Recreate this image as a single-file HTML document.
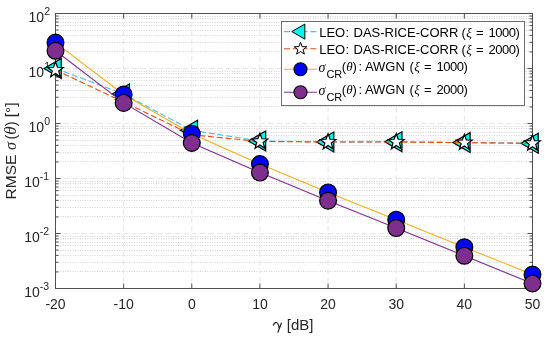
<!DOCTYPE html><html><head><meta charset="utf-8"><style>html,body{margin:0;padding:0;background:#fff;}svg{display:block;will-change:transform;font-family:"Liberation Sans",sans-serif;}</style></head><body>
<svg width="550" height="340" viewBox="0 0 550 340">
<rect width="550" height="340" fill="#fff"/>
<line x1="55.5" y1="271.50" x2="532.5" y2="271.50" stroke="#d2d2d2" stroke-width="1" stroke-dasharray="1 1.45"/>
<line x1="55.5" y1="262.50" x2="532.5" y2="262.50" stroke="#d2d2d2" stroke-width="1" stroke-dasharray="1 1.45"/>
<line x1="55.5" y1="255.50" x2="532.5" y2="255.50" stroke="#d2d2d2" stroke-width="1" stroke-dasharray="1 1.45"/>
<line x1="55.5" y1="250.50" x2="532.5" y2="250.50" stroke="#d2d2d2" stroke-width="1" stroke-dasharray="1 1.45"/>
<line x1="55.5" y1="245.50" x2="532.5" y2="245.50" stroke="#d2d2d2" stroke-width="1" stroke-dasharray="1 1.45"/>
<line x1="55.5" y1="242.50" x2="532.5" y2="242.50" stroke="#d2d2d2" stroke-width="1" stroke-dasharray="1 1.45"/>
<line x1="55.5" y1="238.50" x2="532.5" y2="238.50" stroke="#d2d2d2" stroke-width="1" stroke-dasharray="1 1.45"/>
<line x1="55.5" y1="236.50" x2="532.5" y2="236.50" stroke="#d2d2d2" stroke-width="1" stroke-dasharray="1 1.45"/>
<line x1="55.5" y1="216.50" x2="532.5" y2="216.50" stroke="#d2d2d2" stroke-width="1" stroke-dasharray="1 1.45"/>
<line x1="55.5" y1="207.50" x2="532.5" y2="207.50" stroke="#d2d2d2" stroke-width="1" stroke-dasharray="1 1.45"/>
<line x1="55.5" y1="200.50" x2="532.5" y2="200.50" stroke="#d2d2d2" stroke-width="1" stroke-dasharray="1 1.45"/>
<line x1="55.5" y1="195.50" x2="532.5" y2="195.50" stroke="#d2d2d2" stroke-width="1" stroke-dasharray="1 1.45"/>
<line x1="55.5" y1="190.50" x2="532.5" y2="190.50" stroke="#d2d2d2" stroke-width="1" stroke-dasharray="1 1.45"/>
<line x1="55.5" y1="187.50" x2="532.5" y2="187.50" stroke="#d2d2d2" stroke-width="1" stroke-dasharray="1 1.45"/>
<line x1="55.5" y1="183.50" x2="532.5" y2="183.50" stroke="#d2d2d2" stroke-width="1" stroke-dasharray="1 1.45"/>
<line x1="55.5" y1="181.50" x2="532.5" y2="181.50" stroke="#d2d2d2" stroke-width="1" stroke-dasharray="1 1.45"/>
<line x1="55.5" y1="161.50" x2="532.5" y2="161.50" stroke="#d2d2d2" stroke-width="1" stroke-dasharray="1 1.45"/>
<line x1="55.5" y1="152.50" x2="532.5" y2="152.50" stroke="#d2d2d2" stroke-width="1" stroke-dasharray="1 1.45"/>
<line x1="55.5" y1="145.50" x2="532.5" y2="145.50" stroke="#d2d2d2" stroke-width="1" stroke-dasharray="1 1.45"/>
<line x1="55.5" y1="140.50" x2="532.5" y2="140.50" stroke="#d2d2d2" stroke-width="1" stroke-dasharray="1 1.45"/>
<line x1="55.5" y1="135.50" x2="532.5" y2="135.50" stroke="#d2d2d2" stroke-width="1" stroke-dasharray="1 1.45"/>
<line x1="55.5" y1="132.50" x2="532.5" y2="132.50" stroke="#d2d2d2" stroke-width="1" stroke-dasharray="1 1.45"/>
<line x1="55.5" y1="128.50" x2="532.5" y2="128.50" stroke="#d2d2d2" stroke-width="1" stroke-dasharray="1 1.45"/>
<line x1="55.5" y1="126.50" x2="532.5" y2="126.50" stroke="#d2d2d2" stroke-width="1" stroke-dasharray="1 1.45"/>
<line x1="55.5" y1="106.50" x2="532.5" y2="106.50" stroke="#d2d2d2" stroke-width="1" stroke-dasharray="1 1.45"/>
<line x1="55.5" y1="97.50" x2="532.5" y2="97.50" stroke="#d2d2d2" stroke-width="1" stroke-dasharray="1 1.45"/>
<line x1="55.5" y1="90.50" x2="532.5" y2="90.50" stroke="#d2d2d2" stroke-width="1" stroke-dasharray="1 1.45"/>
<line x1="55.5" y1="85.50" x2="532.5" y2="85.50" stroke="#d2d2d2" stroke-width="1" stroke-dasharray="1 1.45"/>
<line x1="55.5" y1="80.50" x2="532.5" y2="80.50" stroke="#d2d2d2" stroke-width="1" stroke-dasharray="1 1.45"/>
<line x1="55.5" y1="77.50" x2="532.5" y2="77.50" stroke="#d2d2d2" stroke-width="1" stroke-dasharray="1 1.45"/>
<line x1="55.5" y1="73.50" x2="532.5" y2="73.50" stroke="#d2d2d2" stroke-width="1" stroke-dasharray="1 1.45"/>
<line x1="55.5" y1="71.50" x2="532.5" y2="71.50" stroke="#d2d2d2" stroke-width="1" stroke-dasharray="1 1.45"/>
<line x1="55.5" y1="51.50" x2="532.5" y2="51.50" stroke="#d2d2d2" stroke-width="1" stroke-dasharray="1 1.45"/>
<line x1="55.5" y1="42.50" x2="532.5" y2="42.50" stroke="#d2d2d2" stroke-width="1" stroke-dasharray="1 1.45"/>
<line x1="55.5" y1="35.50" x2="532.5" y2="35.50" stroke="#d2d2d2" stroke-width="1" stroke-dasharray="1 1.45"/>
<line x1="55.5" y1="30.50" x2="532.5" y2="30.50" stroke="#d2d2d2" stroke-width="1" stroke-dasharray="1 1.45"/>
<line x1="55.5" y1="25.50" x2="532.5" y2="25.50" stroke="#d2d2d2" stroke-width="1" stroke-dasharray="1 1.45"/>
<line x1="55.5" y1="22.50" x2="532.5" y2="22.50" stroke="#d2d2d2" stroke-width="1" stroke-dasharray="1 1.45"/>
<line x1="55.5" y1="18.50" x2="532.5" y2="18.50" stroke="#d2d2d2" stroke-width="1" stroke-dasharray="1 1.45"/>
<line x1="55.5" y1="16.50" x2="532.5" y2="16.50" stroke="#d2d2d2" stroke-width="1" stroke-dasharray="1 1.45"/>
<line x1="55.5" y1="233.50" x2="532.5" y2="233.50" stroke="#e6e6e6" stroke-width="1" stroke-dasharray="5.5 3"/>
<line x1="55.5" y1="178.50" x2="532.5" y2="178.50" stroke="#e6e6e6" stroke-width="1" stroke-dasharray="5.5 3"/>
<line x1="55.5" y1="123.50" x2="532.5" y2="123.50" stroke="#e6e6e6" stroke-width="1" stroke-dasharray="5.5 3"/>
<line x1="55.5" y1="68.50" x2="532.5" y2="68.50" stroke="#e6e6e6" stroke-width="1" stroke-dasharray="5.5 3"/>
<line x1="123.64" y1="13.5" x2="123.64" y2="288.5" stroke="#e6e6e6" stroke-width="1" stroke-dasharray="5.5 3"/>
<line x1="191.79" y1="13.5" x2="191.79" y2="288.5" stroke="#e6e6e6" stroke-width="1" stroke-dasharray="5.5 3"/>
<line x1="259.93" y1="13.5" x2="259.93" y2="288.5" stroke="#e6e6e6" stroke-width="1" stroke-dasharray="5.5 3"/>
<line x1="328.07" y1="13.5" x2="328.07" y2="288.5" stroke="#e6e6e6" stroke-width="1" stroke-dasharray="5.5 3"/>
<line x1="396.21" y1="13.5" x2="396.21" y2="288.5" stroke="#e6e6e6" stroke-width="1" stroke-dasharray="5.5 3"/>
<line x1="464.36" y1="13.5" x2="464.36" y2="288.5" stroke="#e6e6e6" stroke-width="1" stroke-dasharray="5.5 3"/>
<rect x="55.5" y="13.5" width="477.0" height="275.0" fill="none" stroke="#505050" stroke-width="1"/>
<path d="M55.50 288.5v-5M55.50 13.5v5M123.64 288.5v-5M123.64 13.5v5M191.79 288.5v-5M191.79 13.5v5M259.93 288.5v-5M259.93 13.5v5M328.07 288.5v-5M328.07 13.5v5M396.21 288.5v-5M396.21 13.5v5M464.36 288.5v-5M464.36 13.5v5M532.50 288.5v-5M532.50 13.5v5M55.5 288.50h5M532.5 288.50h-5M55.5 233.50h5M532.5 233.50h-5M55.5 178.50h5M532.5 178.50h-5M55.5 123.50h5M532.5 123.50h-5M55.5 68.50h5M532.5 68.50h-5M55.5 13.50h5M532.5 13.50h-5M55.5 271.94h3M532.5 271.94h-3M55.5 262.26h3M532.5 262.26h-3M55.5 255.39h3M532.5 255.39h-3M55.5 250.06h3M532.5 250.06h-3M55.5 245.70h3M532.5 245.70h-3M55.5 242.02h3M532.5 242.02h-3M55.5 238.83h3M532.5 238.83h-3M55.5 236.02h3M532.5 236.02h-3M55.5 216.94h3M532.5 216.94h-3M55.5 207.26h3M532.5 207.26h-3M55.5 200.39h3M532.5 200.39h-3M55.5 195.06h3M532.5 195.06h-3M55.5 190.70h3M532.5 190.70h-3M55.5 187.02h3M532.5 187.02h-3M55.5 183.83h3M532.5 183.83h-3M55.5 181.02h3M532.5 181.02h-3M55.5 161.94h3M532.5 161.94h-3M55.5 152.26h3M532.5 152.26h-3M55.5 145.39h3M532.5 145.39h-3M55.5 140.06h3M532.5 140.06h-3M55.5 135.70h3M532.5 135.70h-3M55.5 132.02h3M532.5 132.02h-3M55.5 128.83h3M532.5 128.83h-3M55.5 126.02h3M532.5 126.02h-3M55.5 106.94h3M532.5 106.94h-3M55.5 97.26h3M532.5 97.26h-3M55.5 90.39h3M532.5 90.39h-3M55.5 85.06h3M532.5 85.06h-3M55.5 80.70h3M532.5 80.70h-3M55.5 77.02h3M532.5 77.02h-3M55.5 73.83h3M532.5 73.83h-3M55.5 71.02h3M532.5 71.02h-3M55.5 51.94h3M532.5 51.94h-3M55.5 42.26h3M532.5 42.26h-3M55.5 35.39h3M532.5 35.39h-3M55.5 30.06h3M532.5 30.06h-3M55.5 25.70h3M532.5 25.70h-3M55.5 22.02h3M532.5 22.02h-3M55.5 18.83h3M532.5 18.83h-3M55.5 16.02h3M532.5 16.02h-3" stroke="#505050" stroke-width="1" fill="none"/>
<text x="49.1" y="296.80" font-size="14" text-anchor="end" fill="#262626">10<tspan font-size="10.5" dy="-6.6">-3</tspan></text>
<text x="49.1" y="241.80" font-size="14" text-anchor="end" fill="#262626">10<tspan font-size="10.5" dy="-6.6">-2</tspan></text>
<text x="49.1" y="186.80" font-size="14" text-anchor="end" fill="#262626">10<tspan font-size="10.5" dy="-6.6">-1</tspan></text>
<text x="50" y="131.80" font-size="14" text-anchor="end" fill="#262626">10<tspan font-size="10.5" dy="-6.6">0</tspan></text>
<text x="50" y="76.80" font-size="14" text-anchor="end" fill="#262626">10<tspan font-size="10.5" dy="-6.6">1</tspan></text>
<text x="50" y="21.80" font-size="14" text-anchor="end" fill="#262626">10<tspan font-size="10.5" dy="-6.6">2</tspan></text>
<text x="55.50" y="309" font-size="14" text-anchor="middle" fill="#262626">-20</text>
<text x="123.64" y="309" font-size="14" text-anchor="middle" fill="#262626">-10</text>
<text x="191.79" y="309" font-size="14" text-anchor="middle" fill="#262626">0</text>
<text x="259.93" y="309" font-size="14" text-anchor="middle" fill="#262626">10</text>
<text x="328.07" y="309" font-size="14" text-anchor="middle" fill="#262626">20</text>
<text x="396.21" y="309" font-size="14" text-anchor="middle" fill="#262626">30</text>
<text x="464.36" y="309" font-size="14" text-anchor="middle" fill="#262626">40</text>
<text x="532.50" y="309" font-size="14" text-anchor="middle" fill="#262626">50</text>
<path d="M273.3 325.7 C273.9 323.4 275.2 322.4 276.4 322.5 C278 322.7 278.8 325.5 279.2 328.6 M281.5 322.8 L277.8 332.6" stroke="#262626" stroke-width="1.25" fill="none"/>
<text x="286.8" y="329.5" font-size="15" fill="#262626">[dB]</text>
<g transform="translate(15.7,0) rotate(-90)" fill="#262626">
<text x="-199.4" y="0" font-size="15.5">RMSE</text>
<text x="-150.1" y="0" font-size="16.3" font-family="Liberation Serif" font-style="italic">σ</text>
<text x="-139.6" y="0" font-size="14.8">(<tspan font-family="Liberation Serif" font-style="italic" font-size="17">θ</tspan>)</text>
<text x="-117.3" y="0" font-size="15.5">[°]</text>
</g>
<polyline points="55.50,68.50 123.64,94.00 191.79,130.30 259.93,141.00 328.07,142.00 396.21,141.70 464.36,142.60 532.50,143.30" fill="none" stroke="#4DBEEE" stroke-width="1.1" stroke-dasharray="6 2.8"/>
<path d="M44.00 68.50 L61.25 58.54 L61.25 78.46Z" fill="#00F5F0" stroke="#000" stroke-width="1.2"/>
<path d="M112.14 94.00 L129.39 84.04 L129.39 103.96Z" fill="#00F5F0" stroke="#000" stroke-width="1.2"/>
<path d="M180.29 130.30 L197.54 120.34 L197.54 140.26Z" fill="#00F5F0" stroke="#000" stroke-width="1.2"/>
<path d="M248.43 141.00 L265.68 131.04 L265.68 150.96Z" fill="#00F5F0" stroke="#000" stroke-width="1.2"/>
<path d="M316.57 142.00 L333.82 132.04 L333.82 151.96Z" fill="#00F5F0" stroke="#000" stroke-width="1.2"/>
<path d="M384.71 141.70 L401.96 131.74 L401.96 151.66Z" fill="#00F5F0" stroke="#000" stroke-width="1.2"/>
<path d="M452.86 142.60 L470.11 132.64 L470.11 152.56Z" fill="#00F5F0" stroke="#000" stroke-width="1.2"/>
<path d="M521.00 143.30 L538.25 133.34 L538.25 153.26Z" fill="#00F5F0" stroke="#000" stroke-width="1.2"/>
<polyline points="55.50,70.00 123.64,102.00 191.79,134.80 259.93,141.50 328.07,142.00 396.21,142.00 464.36,142.60 532.50,143.30" fill="none" stroke="#D95319" stroke-width="1.1" stroke-dasharray="6 2.8"/>
<path d="M55.50 61.70 L57.50 67.25 L63.39 67.44 L58.74 71.05 L60.38 76.71 L55.50 73.40 L50.62 76.71 L52.26 71.05 L47.61 67.44 L53.50 67.25Z" fill="#fff" stroke="#000" stroke-width="1.2"/>
<path d="M123.64 93.70 L125.64 99.25 L131.54 99.44 L126.88 103.05 L128.52 108.71 L123.64 105.40 L118.76 108.71 L120.41 103.05 L115.75 99.44 L121.64 99.25Z" fill="#fff" stroke="#000" stroke-width="1.2"/>
<path d="M191.79 126.50 L193.79 132.05 L199.68 132.24 L195.02 135.85 L196.66 141.51 L191.79 138.20 L186.91 141.51 L188.55 135.85 L183.89 132.24 L189.79 132.05Z" fill="#fff" stroke="#000" stroke-width="1.2"/>
<path d="M259.93 133.20 L261.93 138.75 L267.82 138.94 L263.17 142.55 L264.81 148.21 L259.93 144.90 L255.05 148.21 L256.69 142.55 L252.03 138.94 L257.93 138.75Z" fill="#fff" stroke="#000" stroke-width="1.2"/>
<path d="M328.07 133.70 L330.07 139.25 L335.97 139.44 L331.31 143.05 L332.95 148.71 L328.07 145.40 L323.19 148.71 L324.83 143.05 L320.18 139.44 L326.07 139.25Z" fill="#fff" stroke="#000" stroke-width="1.2"/>
<path d="M396.21 133.70 L398.21 139.25 L404.11 139.44 L399.45 143.05 L401.09 148.71 L396.21 145.40 L391.34 148.71 L392.98 143.05 L388.32 139.44 L394.21 139.25Z" fill="#fff" stroke="#000" stroke-width="1.2"/>
<path d="M464.36 134.30 L466.36 139.85 L472.25 140.04 L467.59 143.65 L469.24 149.31 L464.36 146.00 L459.48 149.31 L461.12 143.65 L456.46 140.04 L462.36 139.85Z" fill="#fff" stroke="#000" stroke-width="1.2"/>
<path d="M532.50 135.00 L534.50 140.55 L540.39 140.74 L535.74 144.35 L537.38 150.01 L532.50 146.70 L527.62 150.01 L529.26 144.35 L524.61 140.74 L530.50 140.55Z" fill="#fff" stroke="#000" stroke-width="1.2"/>
<polyline points="55.50,42.60 123.64,94.50 191.79,133.70 259.93,164.10 328.07,192.40 396.21,219.70 464.36,247.20 532.50,274.50" fill="none" stroke="#EDB120" stroke-width="1.1"/>
<circle cx="55.50" cy="42.60" r="8.4" fill="#0000FF" stroke="#000" stroke-width="1.2"/>
<circle cx="123.64" cy="94.50" r="8.4" fill="#0000FF" stroke="#000" stroke-width="1.2"/>
<circle cx="191.79" cy="133.70" r="8.4" fill="#0000FF" stroke="#000" stroke-width="1.2"/>
<circle cx="259.93" cy="164.10" r="8.4" fill="#0000FF" stroke="#000" stroke-width="1.2"/>
<circle cx="328.07" cy="192.40" r="8.4" fill="#0000FF" stroke="#000" stroke-width="1.2"/>
<circle cx="396.21" cy="219.70" r="8.4" fill="#0000FF" stroke="#000" stroke-width="1.2"/>
<circle cx="464.36" cy="247.20" r="8.4" fill="#0000FF" stroke="#000" stroke-width="1.2"/>
<circle cx="532.50" cy="274.50" r="8.4" fill="#0000FF" stroke="#000" stroke-width="1.2"/>
<polyline points="55.50,50.80 123.64,102.90 191.79,143.00 259.93,172.60 328.07,200.70 396.21,228.10 464.36,255.80 532.50,283.50" fill="none" stroke="#7E2F8E" stroke-width="1.1"/>
<circle cx="55.50" cy="50.80" r="8.4" fill="#7E2F8E" stroke="#000" stroke-width="1.2"/>
<circle cx="123.64" cy="102.90" r="8.4" fill="#7E2F8E" stroke="#000" stroke-width="1.2"/>
<circle cx="191.79" cy="143.00" r="8.4" fill="#7E2F8E" stroke="#000" stroke-width="1.2"/>
<circle cx="259.93" cy="172.60" r="8.4" fill="#7E2F8E" stroke="#000" stroke-width="1.2"/>
<circle cx="328.07" cy="200.70" r="8.4" fill="#7E2F8E" stroke="#000" stroke-width="1.2"/>
<circle cx="396.21" cy="228.10" r="8.4" fill="#7E2F8E" stroke="#000" stroke-width="1.2"/>
<circle cx="464.36" cy="255.80" r="8.4" fill="#7E2F8E" stroke="#000" stroke-width="1.2"/>
<circle cx="532.50" cy="283.50" r="8.4" fill="#7E2F8E" stroke="#000" stroke-width="1.2"/>
<rect x="281.5" y="21.5" width="243" height="84" fill="#fff" stroke="#6e6e6e" stroke-width="1"/>
<line x1="284" y1="31.6" x2="317" y2="31.6" stroke="#4DBEEE" stroke-width="1.1" stroke-dasharray="6 2.8"/>
<path d="M291.80 31.60 L304.85 24.07 L304.85 39.13Z" fill="#00F5F0" stroke="#000" stroke-width="1"/>
<line x1="284" y1="48.8" x2="317" y2="48.8" stroke="#D95319" stroke-width="1.1" stroke-dasharray="6 2.8"/>
<path d="M300.50 42.20 L302.09 46.61 L306.78 46.76 L303.07 49.64 L304.38 54.14 L300.50 51.51 L296.62 54.14 L297.93 49.64 L294.22 46.76 L298.91 46.61Z" fill="#fff" stroke="#000" stroke-width="1"/>
<line x1="284" y1="69.3" x2="317" y2="69.3" stroke="#EDB120" stroke-width="1.1"/>
<circle cx="300.5" cy="69.3" r="6.5" fill="#0000FF" stroke="#000" stroke-width="1.1"/>
<line x1="284" y1="92.3" x2="317" y2="92.3" stroke="#7E2F8E" stroke-width="1.1"/>
<circle cx="300.5" cy="92.3" r="6.5" fill="#7E2F8E" stroke="#000" stroke-width="1.1"/>
<text x="319.2" y="36.7" font-size="13" fill="#000">LEO<tspan dx="0.3">:</tspan> <tspan dx="0.8">DAS-RICE-CORR </tspan><tspan dx="-0.4">(</tspan><tspan dx="0.4" font-family="Liberation Serif" font-style="italic">ξ</tspan> <tspan dx="0.6">=</tspan> <tspan dx="1.2" letter-spacing="-0.45">1000</tspan>)</text>
<text x="319.2" y="54" font-size="13" fill="#000">LEO<tspan dx="0.3">:</tspan> <tspan dx="0.8">DAS-RICE-CORR </tspan><tspan dx="-0.4">(</tspan><tspan dx="0.4" font-family="Liberation Serif" font-style="italic">ξ</tspan> <tspan dx="0.6">=</tspan> <tspan dx="1.2" letter-spacing="-0.45">2000</tspan>)</text>
<text x="318.5" y="71.2" font-size="13" fill="#000"><tspan font-family="Liberation Serif" font-style="italic" font-size="14" dy="0.5">σ</tspan><tspan font-size="11" dx="1" dy="6">CR</tspan><tspan dx="-0.5" dy="-6.5">(</tspan><tspan font-family="Liberation Serif" font-style="italic">θ</tspan>)<tspan dx="1.5">:</tspan> <tspan dx="0">AWGN </tspan><tspan dx="1">(</tspan><tspan dx="0.4" font-family="Liberation Serif" font-style="italic">ξ</tspan> <tspan dx="0.6">=</tspan> <tspan dx="1.2" letter-spacing="-0.45">1000</tspan>)</text>
<text x="318.5" y="94.1" font-size="13" fill="#000"><tspan font-family="Liberation Serif" font-style="italic" font-size="14" dy="0.5">σ</tspan><tspan font-size="11" dx="1" dy="6">CR</tspan><tspan dx="-0.5" dy="-6.5">(</tspan><tspan font-family="Liberation Serif" font-style="italic">θ</tspan>)<tspan dx="1.5">:</tspan> <tspan dx="0">AWGN </tspan><tspan dx="1">(</tspan><tspan dx="0.4" font-family="Liberation Serif" font-style="italic">ξ</tspan> <tspan dx="0.6">=</tspan> <tspan dx="1.2" letter-spacing="-0.45">2000</tspan>)</text>
</svg></body></html>
